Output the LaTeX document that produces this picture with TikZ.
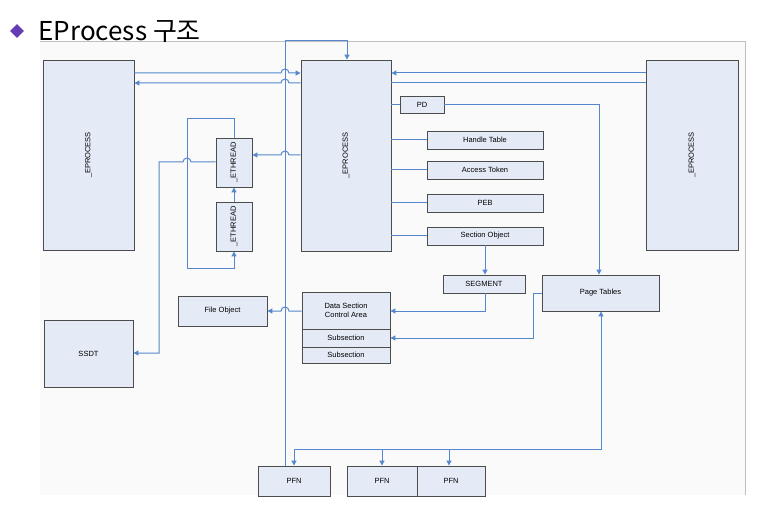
\documentclass[tikz,border=0pt]{standalone}
\usepackage{fontspec}
\setmainfont{Liberation Sans}
\newfontfamily\kr{Noto Sans CJK KR}
\usetikzlibrary{arrows.meta,shapes.geometric}
\definecolor{boxfill}{RGB}{228,235,247}
\definecolor{lnk}{RGB}{85,135,205}
\begin{document}
\begin{tikzpicture}[x=1pt,y=1pt,
  box/.style={draw=black!70,fill=boxfill,line width=0.9pt,font=\fontsize{7.5}{9}\selectfont,inner sep=0pt,align=center},
  con/.style={draw=lnk,line width=1pt},
  arr/.style={con,-{Triangle[length=5pt,width=5pt]}}]
\useasboundingbox (0,0) rectangle (764,-508);
\fill[white] (0,0) rectangle (764,-508);
\fill[black!2] (40,-41) rectangle (745,-495);
\draw[black!25] (40,-41) -- (745,-41) -- (745,-495);
% title
\node[fill={rgb,255:red,100;green,60;blue,180},diamond,minimum size=17pt,inner sep=0pt,draw=white,line width=1.5pt] (bul) at (17,-31) {};
\node[anchor=west,font=\fontsize{26}{28}\selectfont\kr] (title) at (35,-32) {EProcess 구조};
% boxes
\newcommand\bx[6]{\node[box,minimum width=#4-#2,minimum height=#5-#3] (#1) at ({(#2+#4)/2},{-(#3+#5)/2}) {#6};}
\bx{ep1}{43}{60}{134}{250}{\rotatebox{90}{\_EPROCESS}}
\bx{ep2}{301}{60}{391}{251}{\rotatebox{90}{\_EPROCESS}}
\bx{ep3}{646}{60}{738}{250}{\rotatebox{90}{\_EPROCESS}}
\bx{et1}{216}{138}{252}{187}{\rotatebox{90}{\_ETHREAD}}
\bx{et2}{216}{202}{252}{251}{\rotatebox{90}{\_ETHREAD}}
\bx{pd}{400}{96}{444}{113}{PD}
\bx{ht}{427}{131}{543}{149}{Handle Table}
\bx{at}{427}{161}{543}{179}{Access Token}
\bx{peb}{427}{194}{543}{212}{PEB}
\bx{so}{427}{227}{543}{245}{Section Object}
\bx{seg}{443}{275}{525}{293}{SEGMENT}
\bx{pt}{542}{275}{659}{311}{Page Tables}
\bx{fo}{178}{296}{267}{326}{File Object}
\bx{ds}{302}{292}{390}{329}{Data Section\\Control Area}
\bx{sub1}{302}{329}{390}{347}{Subsection}
\bx{sub2}{302}{347}{390}{363}{Subsection}
\bx{ssdt}{44}{320}{133}{387}{SSDT}
\bx{pfn1}{258}{466}{330}{496}{PFN}
\bx{pfn2}{347}{466}{417}{496}{PFN}
\bx{pfn3}{417}{466}{485}{496}{PFN}
% connectors
\draw[arr] (pfn1.north -| 285,0) -- (285,-41) -- (347,-41) -- (ep2.north -| 347,0);
\draw[arr] (ep1.east |- 0,-73) -- (281,-73) arc[start angle=180,end angle=0,radius=4pt] -- (ep2.west |- 0,-73);
\draw[arr] (ep2.west |- 0,-83) -- (289,-83) arc[start angle=0,end angle=180,radius=4pt] -- (ep1.east |- 0,-83);
\draw[arr] (ep3.west |- 0,-73) -- (ep2.east |- 0,-73);
\draw[con] (ep2.east |- 0,-83) -- (ep3.west |- 0,-83);
\draw[arr] (ep2.west |- 0,-155) -- (289,-155) arc[start angle=0,end angle=180,radius=4pt] -- (et1.east |- 0,-155);
\draw[con] (et1.north) -- (234,-119) -- (187,-119) -- (187,-269) -- (234,-269);
\draw[arr] (234,-269) -- (et2.south);
\draw[arr] (et2.north) -- (et1.south);
\draw[arr] (et1.west |- 0,-162) -- (191,-162) arc[start angle=0,end angle=180,radius=4pt] -- (159,-162) -- (159,-353) -- (ssdt.east |- 0,-353);
\draw[con] (ep2.east |- pd.west) -- (pd.west);
\draw[con] (ep2.east |- ht.west) -- (ht.west);
\draw[con] (ep2.east |- at.west) -- (at.west);
\draw[con] (ep2.east |- peb.west) -- (peb.west);
\draw[con] (ep2.east |- so.west) -- (so.west);
\draw[arr] (pd.east) -- (599,-104.5) -- (pt.north -| 599,0);
\draw[arr] (so.south -| 485,0) -- (seg.north -| 485,0);
\draw[arr] (seg.south -| 485,0) -- (485,-311) -- (ds.east |- 0,-311);
\draw[arr] (pt.west |- 0,-293) -- (533,-293) -- (533,-338) -- (sub1.east);
\draw[arr] (ds.west |- 0,-311) -- (289,-311) arc[start angle=0,end angle=180,radius=4pt] -- (fo.east |- 0,-311);
\draw[arr] (294,-449) -- (pfn1.north -| 294,0);
\draw[arr] (382,-449) -- (pfn2.north -| 382,0);
\draw[arr] (449,-449) -- (pfn3.north -| 449,0);
\draw[arr] (294,-449) -- (601,-449) -- (pt.south -| 601,0);
\end{tikzpicture}
\end{document}
